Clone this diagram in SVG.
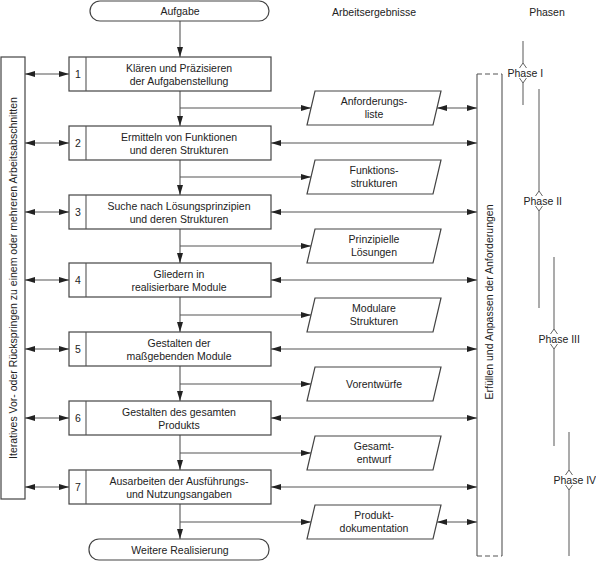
<svg xmlns="http://www.w3.org/2000/svg" width="596" height="561" viewBox="0 0 596 561">
<defs>
<marker id="ah" markerWidth="10" markerHeight="7" refX="10" refY="3.5" orient="auto-start-reverse" markerUnits="userSpaceOnUse"><path d="M0,0.5 L10,3.5 L0,6.5 z" fill="#222"/></marker>
<style>
text{font-family:"Liberation Sans",Arial,sans-serif;font-size:10.5px;fill:#222;}
.c{text-anchor:middle;}
.b{fill:#fff;stroke:#444;stroke-width:1.2;}
.l{fill:none;stroke:#555;stroke-width:1.1;}
.a{fill:none;stroke:#555;stroke-width:1.1;marker-end:url(#ah);}
.d{fill:none;stroke:#555;stroke-width:1.1;marker-start:url(#ah);marker-end:url(#ah);}
.ph{fill:none;stroke:#666;stroke-width:1.1;}
</style>
</defs>
<rect width="596" height="561" fill="#fff"/>

<g id="connectors">
<line class="a" x1="180" y1="21" x2="180" y2="57"/>
<line class="a" x1="180" y1="91" x2="180" y2="126"/>
<line class="a" x1="180" y1="160" x2="180" y2="195"/>
<line class="a" x1="180" y1="229" x2="180" y2="263"/>
<line class="a" x1="180" y1="297" x2="180" y2="332"/>
<line class="a" x1="180" y1="366" x2="180" y2="401"/>
<line class="a" x1="180" y1="435" x2="180" y2="470"/>
<line class="a" x1="180" y1="504" x2="180" y2="539"/>
<line class="a" x1="180" y1="108" x2="311" y2="108"/>
<line class="a" x1="180" y1="177" x2="311" y2="177"/>
<line class="a" x1="180" y1="246" x2="311" y2="246"/>
<line class="a" x1="180" y1="315" x2="311" y2="315"/>
<line class="a" x1="180" y1="384" x2="311" y2="384"/>
<line class="a" x1="180" y1="453" x2="311" y2="453"/>
<line class="a" x1="180" y1="522" x2="311" y2="522"/>
<line class="d" x1="25" y1="74" x2="69" y2="74"/>
<line class="d" x1="25" y1="143" x2="69" y2="143"/>
<line class="d" x1="25" y1="212" x2="69" y2="212"/>
<line class="d" x1="25" y1="280" x2="69" y2="280"/>
<line class="d" x1="25" y1="349" x2="69" y2="349"/>
<line class="d" x1="25" y1="418" x2="69" y2="418"/>
<line class="d" x1="25" y1="487" x2="69" y2="487"/>
<line class="d" x1="271" y1="143" x2="477" y2="143"/>
<line class="d" x1="271" y1="212" x2="477" y2="212"/>
<line class="d" x1="271" y1="280" x2="477" y2="280"/>
<line class="d" x1="271" y1="349" x2="477" y2="349"/>
<line class="d" x1="271" y1="418" x2="477" y2="418"/>
<line class="d" x1="271" y1="487" x2="477" y2="487"/>
<line class="d" x1="437" y1="108" x2="477" y2="108"/>
<line class="d" x1="437" y1="522" x2="477" y2="522"/>
</g>

<g id="start">
<rect class="b" x="90" y="1" width="179" height="20" rx="10"/>
<text class="c" x="180" y="15">Aufgabe</text>
</g>
<g id="end">
<rect class="b" x="89" y="539" width="180" height="21" rx="10"/>
<text class="c" x="180" y="553.5">Weitere Realisierung</text>
</g>

<g id="step1"><rect class="b" x="69" y="57" width="202" height="34"/><line class="l" x1="86" y1="57" x2="86" y2="91"/><text class="c" x="78" y="78">1</text><text class="c" x="179" y="71.5">Klären und Präzisieren</text><text class="c" x="179" y="84.5">der Aufgabenstellung</text></g>
<g id="step2"><rect class="b" x="69" y="126" width="202" height="34"/><line class="l" x1="86" y1="126" x2="86" y2="160"/><text class="c" x="78" y="147">2</text><text class="c" x="179" y="140.5">Ermitteln von Funktionen</text><text class="c" x="179" y="153.5">und deren Strukturen</text></g>
<g id="step3"><rect class="b" x="69" y="195" width="202" height="34"/><line class="l" x1="86" y1="195" x2="86" y2="229"/><text class="c" x="78" y="216">3</text><text class="c" x="179" y="209.5">Suche nach Lösungsprinzipien</text><text class="c" x="179" y="222.5">und deren Strukturen</text></g>
<g id="step4"><rect class="b" x="69" y="263" width="202" height="34"/><line class="l" x1="86" y1="263" x2="86" y2="297"/><text class="c" x="78" y="284">4</text><text class="c" x="179" y="277.5">Gliedern in</text><text class="c" x="179" y="290.5">realisierbare Module</text></g>
<g id="step5"><rect class="b" x="69" y="332" width="202" height="34"/><line class="l" x1="86" y1="332" x2="86" y2="366"/><text class="c" x="78" y="353">5</text><text class="c" x="179" y="346.5">Gestalten der</text><text class="c" x="179" y="359.5">maßgebenden Module</text></g>
<g id="step6"><rect class="b" x="69" y="401" width="202" height="34"/><line class="l" x1="86" y1="401" x2="86" y2="435"/><text class="c" x="78" y="422">6</text><text class="c" x="179" y="415.5">Gestalten des gesamten</text><text class="c" x="179" y="428.5">Produkts</text></g>
<g id="step7"><rect class="b" x="69" y="470" width="202" height="34"/><line class="l" x1="86" y1="470" x2="86" y2="504"/><text class="c" x="78" y="491">7</text><text class="c" x="179" y="484.5">Ausarbeiten der Ausführungs-</text><text class="c" x="179" y="497.5">und Nutzungsangaben</text></g>

<g id="res1"><polygon class="b" points="315,91 441,91 433,125 307,125"/><text class="c" x="374" y="104.5">Anforderungs-</text><text class="c" x="374" y="117.5">liste</text></g>
<g id="res2"><polygon class="b" points="315,160 441,160 433,194 307,194"/><text class="c" x="374" y="173.5">Funktions-</text><text class="c" x="374" y="186.5">strukturen</text></g>
<g id="res3"><polygon class="b" points="315,229 441,229 433,263 307,263"/><text class="c" x="374" y="242.5">Prinzipielle</text><text class="c" x="374" y="255.5">Lösungen</text></g>
<g id="res4"><polygon class="b" points="315,298 441,298 433,332 307,332"/><text class="c" x="374" y="311.5">Modulare</text><text class="c" x="374" y="324.5">Strukturen</text></g>
<g id="res5"><polygon class="b" points="315,367 441,367 433,401 307,401"/><text class="c" x="374" y="388">Vorentwürfe</text></g>
<g id="res6"><polygon class="b" points="315,436 441,436 433,470 307,470"/><text class="c" x="374" y="449.5">Gesamt-</text><text class="c" x="374" y="462.5">entwurf</text></g>
<g id="res7"><polygon class="b" points="315,505 441,505 433,539 307,539"/><text class="c" x="374" y="518.5">Produkt-</text><text class="c" x="374" y="531.5">dokumentation</text></g>

<g id="iterate">
<rect class="b" x="1" y="57" width="24" height="442"/>
<text class="c" transform="translate(16.5,278) rotate(-90)">Iteratives Vor- oder Rückspringen zu einem oder mehreren Arbeitsabschnitten</text>
</g>

<g id="requirements">
<rect x="477" y="74" width="25" height="482" fill="#fff"/>
<line class="l" x1="477" y1="74" x2="477" y2="556"/>
<line class="l" x1="502" y1="74" x2="502" y2="556"/>
<line class="l" x1="477" y1="74" x2="502" y2="74" stroke-dasharray="5,3"/>
<line class="l" x1="477" y1="556" x2="502" y2="556" stroke-dasharray="5,3"/>
<text class="c" transform="translate(493,302) rotate(-90)">Erfüllen und Anpassen der Anforderungen</text>
</g>

<g id="headers">
<text class="c" x="374" y="16">Arbeitsergebnisse</text>
<text class="c" x="547" y="16">Phasen</text>
</g>

<g id="phase1">
<line class="ph" x1="523" y1="41" x2="523" y2="105"/>
<polygon points="523,63 530,73 523,83 516,73" fill="#fff" stroke="#666" stroke-width="1"/>
<rect x="508" y="68" width="36" height="10" fill="#fff"/>
<text x="507.5" y="77">Phase I</text>
</g>
<g id="phase2">
<line class="ph" x1="539" y1="89" x2="539" y2="308"/>
<polygon points="539,191 546,201 539,211 532,201" fill="#fff" stroke="#666" stroke-width="1"/>
<rect x="524" y="196" width="40" height="10" fill="#fff"/>
<text x="523.5" y="205">Phase II</text>
</g>
<g id="phase3">
<line class="ph" x1="554" y1="257" x2="554" y2="446"/>
<polygon points="554,329 561,339 554,349 547,339" fill="#fff" stroke="#666" stroke-width="1"/>
<rect x="539" y="334" width="33" height="10" fill="#fff"/>
<text x="538.5" y="343">Phase III</text>
</g>
<g id="phase4">
<line class="ph" x1="569" y1="432" x2="569" y2="556"/>
<polygon points="569,470 576,480 569,490 562,480" fill="#fff" stroke="#666" stroke-width="1"/>
<rect x="554" y="475" width="42" height="10" fill="#fff"/>
<text x="553.5" y="484">Phase IV</text>
</g>
</svg>
